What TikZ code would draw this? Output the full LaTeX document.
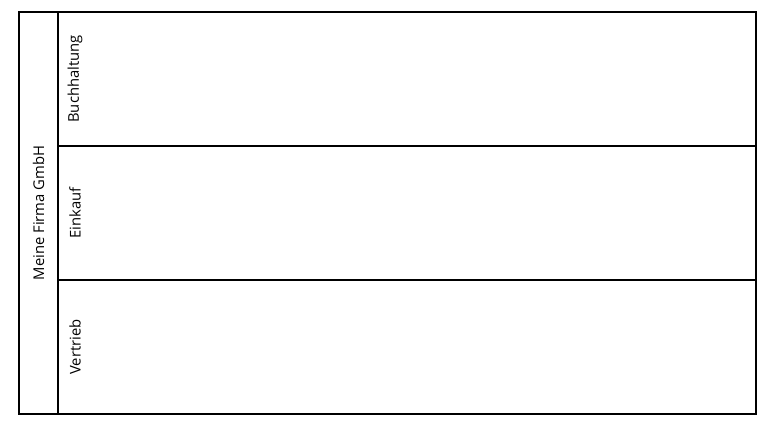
\documentclass[tikz,border=0pt]{standalone}
\usepackage{fontspec}
\setmainfont{Open Sans}
\usetikzlibrary{positioning}

\begin{document}
\begin{tikzpicture}[x=1pt,y=1pt,
  lanebox/.style={draw,line width=1.1pt,minimum width=698pt,minimum height=134pt,inner sep=0pt,outer sep=0pt},
  lanelabel/.style={rotate=90,inner sep=0pt,font=\fontsize{14.8}{17}\selectfont}]
\useasboundingbox (0,0) rectangle (768,428);

\node[draw,line width=1.1pt,minimum width=39pt,minimum height=402pt,inner sep=0pt,outer sep=0pt,anchor=north west] (pool) at (19,416) {};
\node[lanelabel] (poolname) at (pool.center) {Meine Firma GmbH};

\node[lanebox,anchor=north west] (lane1) at (pool.north east) {};
\node[lanebox,below=0pt of lane1] (lane2) {};
\node[lanebox,below=0pt of lane2] (lane3) {};

\node[lanelabel] (l1) at ([xshift=17pt]lane1.west) {Buchhaltung};
\node[lanelabel] (l2) at ([xshift=17pt]lane2.west) {Einkauf};
\node[lanelabel] (l3) at ([xshift=17pt]lane3.west) {Vertrieb};
\end{tikzpicture}
\end{document}
